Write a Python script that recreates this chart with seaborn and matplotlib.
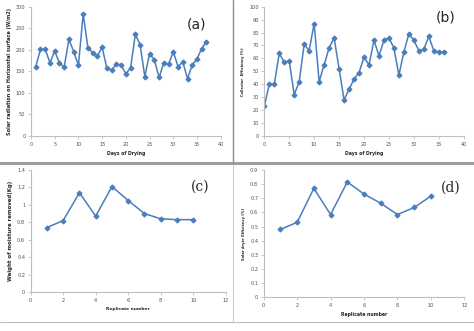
import numpy as np
import pandas as pd
import matplotlib
matplotlib.use("Agg")
import matplotlib.pyplot as plt
from matplotlib.patches import Rectangle
from matplotlib.lines import Line2D
import seaborn as sns

# Daily solar radiation on a horizontal surface (W/m2), days 1-37
days_a = list(range(1, 38))
radiation = [161, 201, 201, 170, 197, 169, 160, 224, 196, 164,
             283, 205, 193, 186, 206, 157, 153, 167, 165, 144,
             158, 236, 212, 138, 191, 177, 136, 170, 166, 196,
             161, 172, 133, 165, 179, 203, 219]

# Collector efficiency (%), days 0-36
days_b = list(range(0, 37))
collector_eff = [23, 40, 40, 64, 57, 58, 32, 42, 71, 66,
                 87, 42, 55, 68, 76, 52, 28, 36, 44, 49,
                 61, 55, 74, 62, 74, 76, 68, 47, 65, 79,
                 74, 66, 67, 77, 66, 65, 65]

# Replicate runs
replicates = list(range(1, 11))
moisture_removed = [0.74, 0.82, 1.14, 0.87, 1.21, 1.05, 0.90, 0.84, 0.83, 0.83]
dryer_eff = [0.48, 0.53, 0.77, 0.585, 0.815, 0.73, 0.665, 0.585, 0.635, 0.715]

LINE = "#4a7ebb"
SPINE = "#bfbfbf"

sns.set_style("white")
plt.rcParams["font.family"] = ["DejaVu Sans"]

fig = plt.figure(figsize=(4.74, 3.31), dpi=100)
W, H = 474, 331


def px_axes(x0, x1, y_top, y_bot):
    return fig.add_axes([x0 / W, 1 - y_bot / H, (x1 - x0) / W, (y_bot - y_top) / H])


def style(ax, xlim, xticks, ylim, yticks, ylabels, xlabel, ylabel, xls, yls):
    ax.set_xlim(*xlim)
    ax.set_ylim(*ylim)
    ax.set_xticks(xticks)
    ax.set_yticks(yticks)
    ax.set_yticklabels(ylabels)
    for s in ("top", "right"):
        ax.spines[s].set_visible(False)
    for s in ("left", "bottom"):
        ax.spines[s].set_color(SPINE)
        ax.spines[s].set_linewidth(0.8)
    ax.tick_params(axis="both", labelsize=3.6, labelcolor="#505050", length=2,
                   width=0.6, pad=2, direction="out", left=True, bottom=True,
                   color=SPINE)
    ax.set_xlabel(xlabel, fontsize=xls, fontweight="bold", labelpad=3)
    ax.set_ylabel(ylabel, fontsize=yls, fontweight="bold", labelpad=3)
    ax.set_facecolor("white")


def plot_series(ax, x, y, ms):
    df = pd.DataFrame({"x": x, "y": y})
    sns.lineplot(data=df, x="x", y="y", ax=ax, color=LINE, linewidth=1.1,
                 marker="D", markersize=ms, markeredgecolor=LINE,
                 markerfacecolor=LINE)


def num(v):
    return f"{v:g}"


# panel separators
fig.add_artist(Rectangle((0, 1 - 165 / H), 1, 3.5 / H, transform=fig.transFigure,
                         facecolor="#9e9e9e", edgecolor="none"))
fig.add_artist(Line2D([232.5 / W, 232.5 / W], [1 - 162 / H, 1], transform=fig.transFigure,
                      color="#8c8c8c", linewidth=1.0))
fig.add_artist(Line2D([232.5 / W, 232.5 / W], [1 - 322 / H, 1 - 165 / H],
                      transform=fig.transFigure, color="#d0d0d0", linewidth=0.8))
fig.add_artist(Line2D([0, 1], [1 - 322 / H, 1 - 322 / H], transform=fig.transFigure,
                      color="#c0c0c0", linewidth=0.8))

# (a)
ax = px_axes(31, 220.7, 6.7, 136)
plot_series(ax, days_a, radiation, 2.6)
yt = list(range(0, 301, 50))
style(ax, (0, 40), range(0, 41, 5), (0, 300), yt, [num(v) for v in yt],
      "Days of Drying", "Solar radiation on Horizontal surface (W/m2)", 3.3, 3.6)
ax.text(0.87, 0.86, "(a)", transform=ax.transAxes, fontsize=10,
        ha="center", va="center")

# (b)
ax = px_axes(264.3, 463.7, 6.7, 136)
plot_series(ax, days_b, collector_eff, 2.6)
yt = list(range(0, 101, 10))
style(ax, (0, 40), range(0, 41, 5), (0, 100), yt, [num(v) for v in yt],
      "Days of Drying", "Collector  Efficiency (%)", 3.3, 2.6)
ax.text(0.91, 0.92, "(b)", transform=ax.transAxes, fontsize=10,
        ha="center", va="center")

# (c)
ax = px_axes(30.7, 225.7, 170, 292)
plot_series(ax, replicates, moisture_removed, 2.6)
yt = [0, 0.2, 0.4, 0.6, 0.8, 1.0, 1.2, 1.4]
style(ax, (0, 12), range(0, 13, 2), (0, 1.4), yt, [num(round(v, 1)) for v in yt],
      "Replicate number", "Weight of moisture removed(Kg)", 3.2, 3.9)
ax.text(0.87, 0.86, "(c)", transform=ax.transAxes, fontsize=10,
        family="DejaVu Serif", ha="center", va="center")

# (d)
ax = px_axes(263.7, 464.3, 170, 297.3)
plot_series(ax, replicates, dryer_eff, 2.6)
yt = [0, 0.1, 0.2, 0.3, 0.4, 0.5, 0.6, 0.7, 0.8, 0.9]
style(ax, (0, 12), range(0, 13, 2), (0, 0.9), yt, [num(round(v, 1)) for v in yt],
      "Replicate number", "Solar dryer Efficiency (%)", 3.3, 2.6)
ax.text(0.93, 0.86, "(d)", transform=ax.transAxes, fontsize=10,
        family="DejaVu Serif", ha="center", va="center")

fig.savefig("out.png", dpi=100, facecolor="white")
